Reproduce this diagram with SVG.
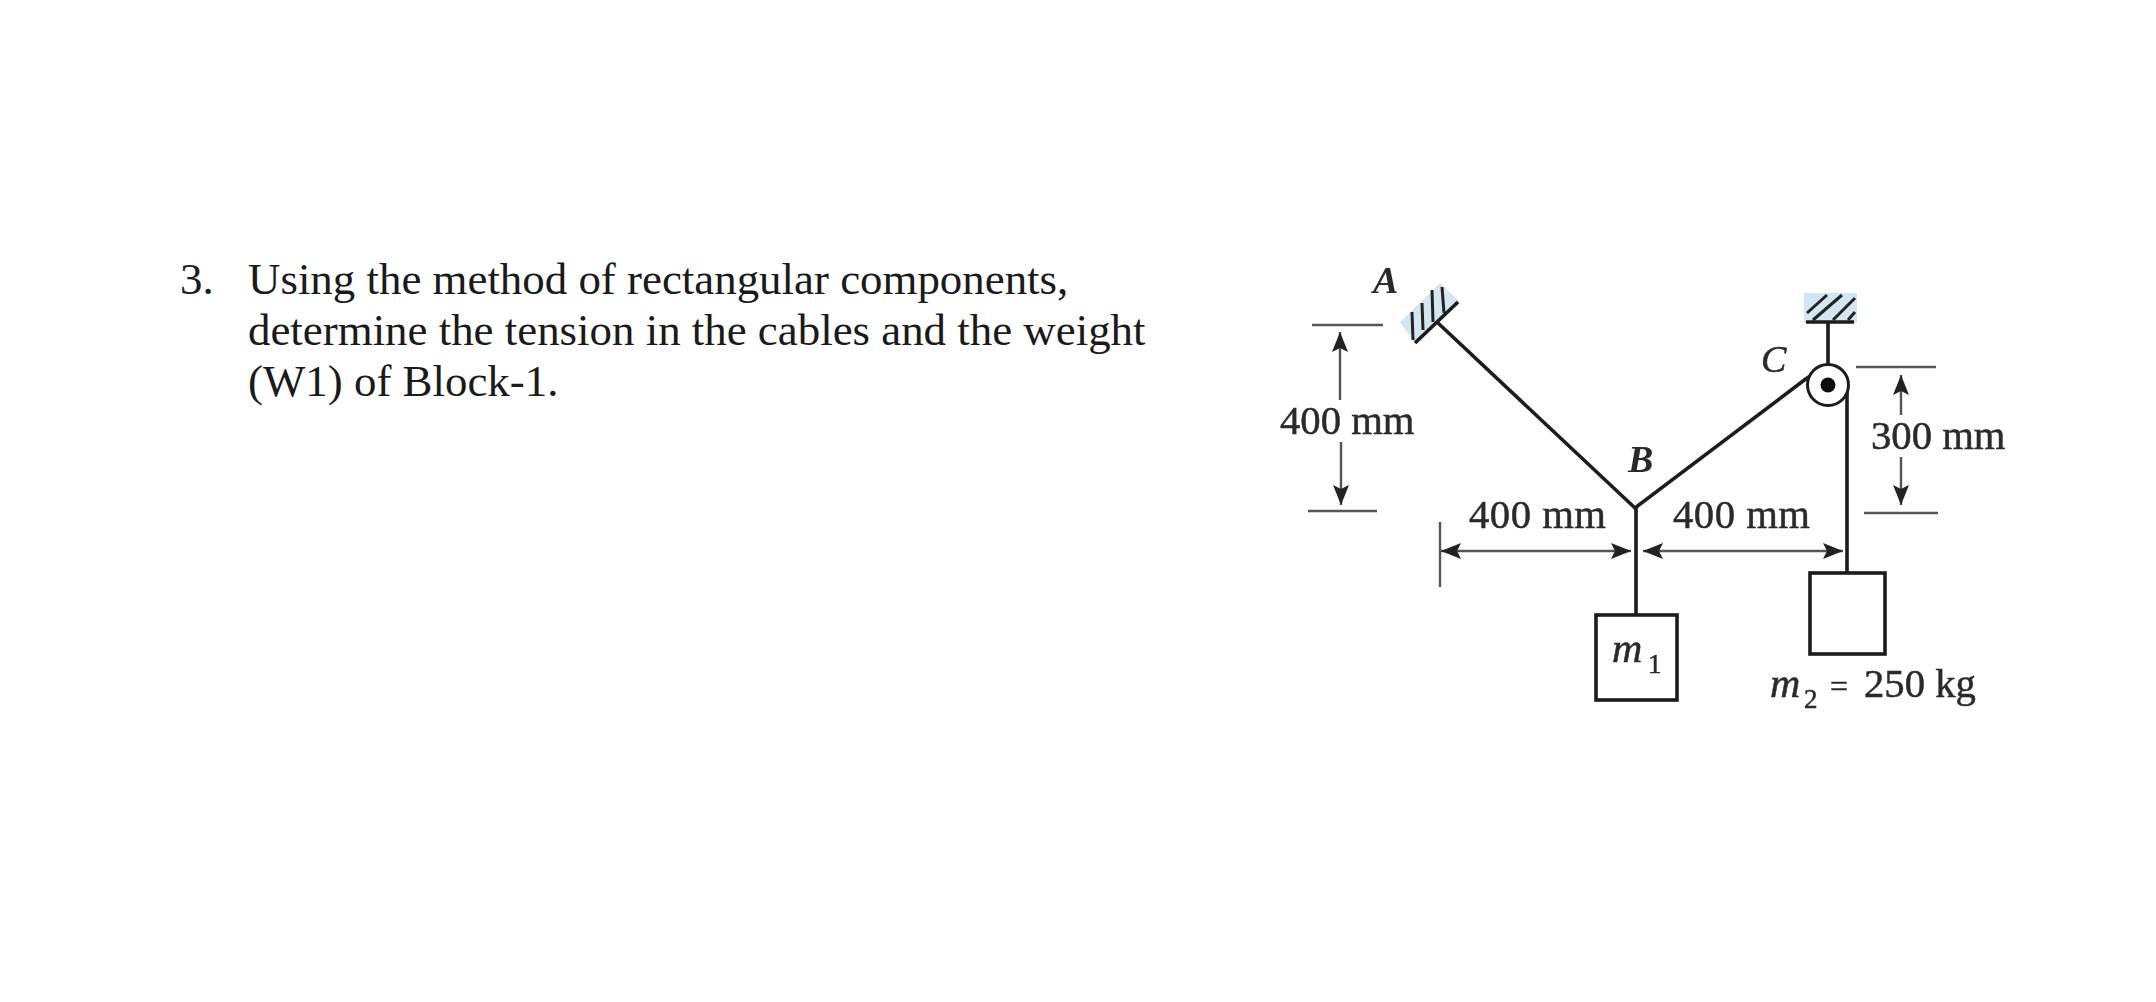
<svg xmlns="http://www.w3.org/2000/svg" width="2156" height="1002" viewBox="0 0 2156 1002">
<style>
.t{font-family:"Liberation Serif","Times New Roman",serif;font-size:44.9px;fill:#1a1a1a}
.d{font-family:"Liberation Serif","Times New Roman",serif;font-size:40.7px;fill:#2a2a2a;stroke:#2a2a2a;stroke-width:.5}
.w{letter-spacing:.5px}
.s{font-size:27px}
.i{font-family:"Liberation Serif","Times New Roman",serif;font-size:38px;font-style:italic;font-weight:bold;fill:#2a2a2a}
.n{font-weight:normal;stroke:#2a2a2a;stroke-width:.5}
.m{font-family:"Liberation Serif","Times New Roman",serif;font-size:42px;font-style:italic;fill:#2a2a2a;stroke:#2a2a2a;stroke-width:.5}
.c{fill:none;stroke:#1c1c1c;stroke-width:3.6}
.h{fill:none;stroke:#222;stroke-width:3}
.dim{fill:none;stroke:#555;stroke-width:2.4}
.g{fill:#d4e6f2}
.box{fill:#fff;stroke:#1c1c1c;stroke-width:3.6}
</style>
<defs>
<marker id="ah" markerUnits="userSpaceOnUse" markerWidth="20" markerHeight="16" refX="20" refY="8" orient="auto-start-reverse"><path d="M0 0L20 8L0 16L4 8Z" fill="#222"/></marker>
<filter id="soft" x="-5%" y="-5%" width="110%" height="110%"><feGaussianBlur stdDeviation="0.6"/></filter>
</defs>
<rect width="2156" height="1002" fill="#fff"/>
<g id="problem-text">
<text class="t" x="180" y="294">3.</text>
<text class="t" x="248" y="294">Using the method of rectangular components,</text>
<text class="t" x="248" y="345">determine the tension in the cables and the weight</text>
<text class="t" x="248" y="396">(W1) of Block-1.</text>
</g>
<g filter="url(#soft)">
<g id="connectors">
<path class="c" d="M1438 323L1635 508L1807 378"/>
<path class="c" d="M1636 508V615"/>
<path class="c" d="M1828 322V366"/>
<path class="c" d="M1807 378A29 29 0 0 1 1847 386V573"/>
<g id="dimensions">
<path class="dim" d="M1312 325H1383M1308 511H1377M1856 367H1936M1864 513H1938M1440 522V587"/>
<path class="dim" d="M1340 400V332" marker-end="url(#ah)"/>
<path class="dim" d="M1341 442V505" marker-end="url(#ah)"/>
<path class="dim" d="M1901 415V375" marker-end="url(#ah)"/>
<path class="dim" d="M1901 457V505" marker-end="url(#ah)"/>
<path class="dim" d="M1441 551H1631" marker-start="url(#ah)" marker-end="url(#ah)"/>
<path class="dim" d="M1643 551H1843" marker-start="url(#ah)" marker-end="url(#ah)"/>
</g>
</g>
<g id="support-A">
<path class="g" d="M1400 322L1440 283L1460 302L1415 343Z"/>
<path class="c" d="M1415 343L1458 302"/>
<path class="h" d="M1412 312L1413 340M1422 303L1423 330M1432 290L1433 322M1442 287L1444 313"/>
</g>
<g id="support-C">
<rect class="g" x="1804" y="293" width="53" height="30"/>
<path class="c" d="M1806 322H1854"/>
<path class="h" d="M1807 313L1827 295M1813 320L1842 295M1833 320L1855 298M1848 320L1855 312"/>
</g>
<g id="pulley">
<circle cx="1828" cy="385" r="20.5" fill="#fff" stroke="#1c1c1c" stroke-width="3"/>
<circle cx="1828" cy="385" r="7.5" fill="#111"/>
</g>
<g id="block-m1">
<rect class="box" x="1596" y="615" width="81" height="85"/>
<text class="m" x="1612" y="662">m</text>
<text class="d s" x="1648" y="673">1</text>
</g>
<g id="block-m2">
<rect class="box" x="1810" y="573" width="75" height="81"/>
<text class="m" x="1770" y="697">m</text>
<text class="d s" x="1804" y="708">2</text>
<text class="d" x="1830" y="697" style="font-size:32px">=</text>
<text class="d" x="1864" y="697">250 kg</text>
</g>
<g id="labels">
<text class="i" x="1373" y="293">A</text>
<text class="i" x="1628" y="472">B</text>
<text class="i n" x="1761" y="372">C</text>
<text class="d" x="1280" y="434">400 mm</text>
<text class="d w" x="1469" y="528">400 mm</text>
<text class="d w" x="1673" y="528">400 mm</text>
<text class="d" x="1871" y="449">300 mm</text>
</g>
</g>
</svg>
